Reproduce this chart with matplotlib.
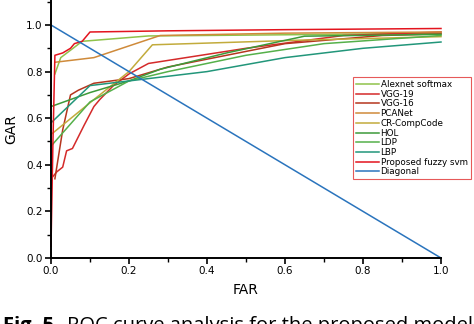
import matplotlib
matplotlib.use("Agg")
import matplotlib.pyplot as plt
from matplotlib.ticker import MultipleLocator

plt.rcParams['font.family'] = ['DejaVu Sans']

labels = ["Alexnet softmax", "VGG-19", "VGG-16", "PCANet", "CR-CompCode",
          "HOL", "LDP", "LBP", "Proposed fuzzy svm", "Diagonal"]
colors = ["#8fc24a", "#d42a2a", "#b5361e", "#cf8a3a", "#c2ab3c",
          "#3d9a3a", "#55b04a", "#22967a", "#e3141e", "#2a74bd"]

alexnet_x = [0.01, 0.025, 0.08, 0.25, 0.6, 1.0]
alexnet_y = [0.79, 0.86, 0.93, 0.953, 0.958, 0.965]

vgg19_x = [0.005, 0.015, 0.03, 0.04, 0.055, 0.085, 0.11, 0.125, 0.16, 0.2, 0.25, 0.5, 0.75, 1.0]
vgg19_y = [0.35, 0.37, 0.39, 0.46, 0.47, 0.57, 0.65, 0.68, 0.74, 0.79, 0.835, 0.9, 0.955, 0.97]

vgg16_x = [0.01, 0.03, 0.05, 0.07, 0.11, 0.2, 0.3, 0.6, 0.85, 1.0]
vgg16_y = [0.34, 0.55, 0.70, 0.72, 0.75, 0.77, 0.82, 0.92, 0.955, 0.962]

pcanet_x = [0.01, 0.11, 0.28, 0.6, 1.0]
pcanet_y = [0.84, 0.86, 0.955, 0.965, 0.97]

crcomp_x = [0.0, 0.11, 0.2, 0.26, 0.64, 1.0]
crcomp_y = [0.53, 0.68, 0.80, 0.915, 0.935, 0.95]

hol_x = [0.0, 0.1, 0.2, 0.28, 0.45, 0.65, 1.0]
hol_y = [0.65, 0.71, 0.76, 0.81, 0.88, 0.952, 0.96]

ldp_x = [0.0, 0.1, 0.2, 0.3, 0.5, 0.7, 1.0]
ldp_y = [0.48, 0.67, 0.76, 0.80, 0.87, 0.92, 0.955]

lbp_x = [0.0, 0.1, 0.25, 0.4, 0.6, 0.8, 1.0]
lbp_y = [0.58, 0.74, 0.77, 0.80, 0.86, 0.90, 0.927]

fuzzy_x = [0.0, 0.005, 0.01, 0.03, 0.05, 0.06, 0.08, 0.1, 0.3, 0.6, 1.0]
fuzzy_y = [0.05, 0.5, 0.87, 0.88, 0.90, 0.92, 0.93, 0.97, 0.975, 0.98, 0.985]

diag_x = [0.0, 1.0]
diag_y = [1.0, 0.0]

series = [(alexnet_x, alexnet_y), (vgg19_x, vgg19_y), (vgg16_x, vgg16_y),
          (pcanet_x, pcanet_y), (crcomp_x, crcomp_y), (hol_x, hol_y),
          (ldp_x, ldp_y), (lbp_x, lbp_y), (fuzzy_x, fuzzy_y), (diag_x, diag_y)]

fig = plt.figure(figsize=(4.74, 3.24), dpi=100)
ax = fig.add_axes([51/474, 1 - 258/324, 390/474, 258/324])

for (x, y), lab, c in zip(series, labels, colors):
    ax.plot(x, y, color=c, lw=1.1, label=lab, clip_on=False)

ax.set_xlim(0, 1.0)
ax.set_ylim(0, 258/233)
ax.spines['top'].set_visible(False)
ax.spines['right'].set_visible(False)
for s in ['left', 'bottom']:
    ax.spines[s].set_linewidth(1.4)
ax.xaxis.set_minor_locator(MultipleLocator(0.1))
ax.yaxis.set_minor_locator(MultipleLocator(0.1))
ax.set_yticks([0, 0.2, 0.4, 0.6, 0.8, 1.0])
ax.set_xticks([0, 0.2, 0.4, 0.6, 0.8, 1.0])
ax.tick_params(which='major', direction='out', length=4, width=1.2, labelsize=7.5, pad=2)
ax.tick_params(which='minor', direction='out', length=3, width=1.0)
ax.xaxis.set_major_formatter(plt.FuncFormatter(lambda v, p: f"{v:.1f}"))
ax.yaxis.set_major_formatter(plt.FuncFormatter(lambda v, p: f"{v:.1f}"))

ax.set_xlabel("FAR", fontsize=10, labelpad=5)
ax.set_ylabel("GAR", fontsize=10, labelpad=6)

leg = ax.legend(loc='upper left', bbox_to_anchor=((353-51)/390, (258-77)/258),
                fontsize=6.3, frameon=True, fancybox=False, edgecolor='#e03030',
                handlelength=2.6, handletextpad=0.2, labelspacing=0.08,
                borderpad=0.35, borderaxespad=0)
leg.get_frame().set_linewidth(0.8)

fig.text(3/474, 1 - 331/324, "Fig. 5.", fontsize=14.5, fontweight='bold',
         family='Open Sans', va='baseline', ha='left')
fig.text(67/474, 1 - 331/324, "ROC curve analysis for the proposed model",
         fontsize=14.5, family='Open Sans', va='baseline', ha='left')

fig.savefig("out.png", dpi=100)
